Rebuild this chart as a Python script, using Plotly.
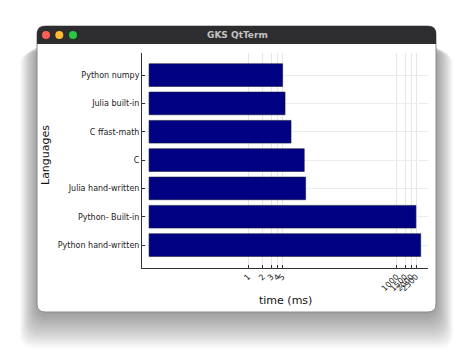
import math
import plotly.graph_objects as go

# ---- data ----
languages = ["Python hand-written", "Python- Built-in", "Julia hand-written", "C",
             "C ffast-math", "Julia built-in", "Python numpy"]
times_ms = [3100, 2480, 14.6, 13.7, 7.4, 5.6, 5.0]
bar_base = 0.01
x_tickvals = [1, 2, 3, 4, 5, 1000, 1500, 2000, 2500]
x_ticktext = ["1", "2", "3", "4", "5", "1000", "1500", "2000", "2500"]

OFF = 8  # default page body margin
W, H = 474 - OFF, 361 - OFF


def px(x):
    return (x - OFF) / W


def py(y):
    return 1 - (y - OFF) / H


def rounded_rect(x0, y0, x1, y1, r, top_only=False):
    rx, ry = r / W, r / H
    X0, X1 = px(x0), px(x1)
    Yt, Yb = py(y0), py(y1)
    rt = 1
    rb = 0 if top_only else 1
    p = f"M {X0+rx*rt},{Yt} L {X1-rx*rt},{Yt} Q {X1},{Yt} {X1},{Yt-ry*rt} "
    p += f"L {X1},{Yb+ry*rb} Q {X1},{Yb} {X1-rx*rb},{Yb} "
    p += f"L {X0+rx*rb},{Yb} Q {X0},{Yb} {X0},{Yb+ry*rb} "
    p += f"L {X0},{Yt-ry*rt} Q {X0},{Yt} {X0+rx*rt},{Yt} Z"
    return p


shapes = []
# soft drop shadow
for i in range(1, 21):
    shapes.append(dict(type="path", xref="paper", yref="paper", layer="below",
                       path=rounded_rect(40 - i * 1.0, 40 + i * 0.6, 433 + i * 1.0, 308 + i * 2.0, 14),
                       fillcolor="rgba(0,0,0,0.022)", line=dict(width=0)))
# window body
shapes.append(dict(type="path", xref="paper", yref="paper", layer="below",
                   path=rounded_rect(37, 26, 436, 312, 8),
                   fillcolor="white", line=dict(color="#8a8a8a", width=1)))
# title bar
shapes.append(dict(type="path", xref="paper", yref="paper", layer="below",
                   path=rounded_rect(37, 26, 436, 44, 8, top_only=True),
                   fillcolor="#2d2c2e", line=dict(width=0)))
# traffic lights
for cx, col in [(46, "#fe5f57"), (59.3, "#febc2e"), (73, "#2ac840")]:
    shapes.append(dict(type="circle", xref="paper", yref="paper", layer="below",
                       x0=px(cx - 4), x1=px(cx + 4), y0=py(35 + 4), y1=py(35 - 4),
                       fillcolor=col, line=dict(width=0)))

fig = go.Figure()
fig.add_trace(go.Bar(
    y=languages, x=times_ms, base=bar_base, orientation="h", width=0.8,
    marker=dict(color="#000083", line=dict(color="#1a1a3a", width=0.6)),
))

font = "DejaVu Sans"
fig.update_layout(
    width=W, height=H, autosize=False,
    margin=dict(l=0, r=0, t=0, b=0, pad=0),
    paper_bgcolor="white", plot_bgcolor="rgba(0,0,0,0)",
    showlegend=False,
    shapes=shapes,
    font=dict(family=font, color="#222222"),
    xaxis=dict(
        type="log", domain=[px(142), px(428)],
        range=[math.log10(0.0072), math.log10(4350)],
        tickvals=x_tickvals, ticktext=x_ticktext, tickangle=-45,
        tickfont=dict(size=8, family=font, color="#222"),
        ticks="inside", ticklen=3, tickcolor="#333", tickwidth=0.8,
        showline=True, linecolor="#333", linewidth=1,
        showgrid=True, gridcolor="#e6e6e6", gridwidth=0.6,
        zeroline=False, automargin=False, fixedrange=True,
    ),
    yaxis=dict(
        type="category", categoryorder="array", categoryarray=languages,
        domain=[py(268), py(53)], range=[-0.81, 6.78],
        tickfont=dict(size=8, family=font, color="#222"),
        ticks="inside", ticklen=3, tickcolor="#333", tickwidth=0.8,
        showline=True, linecolor="#333", linewidth=1,
        showgrid=True, gridcolor="#ececec", gridwidth=0.6,
        zeroline=False, automargin=False, fixedrange=True,
    ),
    annotations=[
        dict(text="<b>GKS QtTerm</b>", x=px(237), y=py(35), xref="paper", yref="paper",
             showarrow=False, font=dict(size=9, color="#c4c4c4", family=font),
             xanchor="center", yanchor="middle"),
        dict(text="time (ms)", x=px(285.5), y=py(300), xref="paper", yref="paper",
             showarrow=False, font=dict(size=11, color="#111", family=font),
             xanchor="center", yanchor="middle"),
        dict(text="Languages", x=px(45), y=py(155), xref="paper", yref="paper",
             showarrow=False, textangle=-90, font=dict(size=11, color="#111", family=font),
             xanchor="center", yanchor="middle"),
    ],
)

fig.write_html("out.html")
